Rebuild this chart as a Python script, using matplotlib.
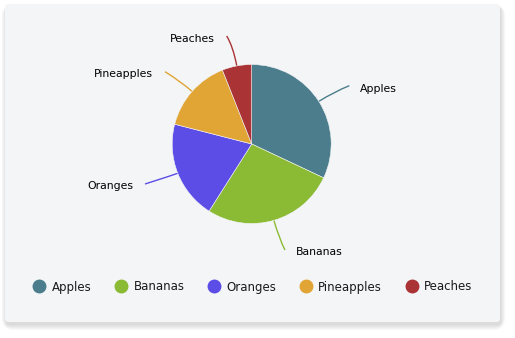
import matplotlib
matplotlib.use("Agg")
import matplotlib.pyplot as plt
import numpy as np
from matplotlib.patches import FancyBboxPatch, PathPatch
from matplotlib.path import Path
from matplotlib.lines import Line2D

categories = ["Apples", "Bananas", "Oranges", "Pineapples", "Peaches"]
values = [32, 27, 20, 15, 6]
colors = ["#4b7d8d", "#8bbb34", "#5b4de6", "#e0a535", "#aa3335"]

W, H = 515, 338
fig = plt.figure(figsize=(W / 100, H / 100), dpi=100)
fig.patch.set_facecolor("white")

bg = fig.add_axes([0, 0, 1, 1])
bg.set_xlim(0, W)
bg.set_ylim(H, 0)
bg.axis("off")

# soft card shadow
for i in range(12):
    g = i * 0.8
    bg.add_patch(FancyBboxPatch((5 + 1 - g * 0.5, 4 + 3 - g * 0.3), 495 + g, 318 + g * 0.9,
                                boxstyle="round,pad=0,rounding_size=%g" % (4 + g),
                                fc="black", ec="none", alpha=0.012, zorder=1))
bg.add_patch(FancyBboxPatch((5, 4), 495, 318, boxstyle="round,pad=0,rounding_size=3",
                            fc="#f4f5f7", ec="none", zorder=2))

cx, cy, R = 251.7, 144.0, 79.5
pie_ax = fig.add_axes([(cx - R) / W, (H - cy - R) / H, 2 * R / W, 2 * R / H])
wedges, _ = pie_ax.pie(values, colors=colors, startangle=90, counterclock=False,
                       radius=1.0, wedgeprops=dict(linewidth=0.4, edgecolor="#f4f5f7"))
pie_ax.set_xlim(-1, 1)
pie_ax.set_ylim(-1, 1)
pie_ax.set_aspect("equal")
pie_ax.axis("off")

# label layout (pixel positions of leader line ends) and control factor
ends = [(349.3, 85.7), (285.0, 250.0), (145.0, 184.0), (165.0, 71.7), (226.7, 36.0)]
ctrl_k = [1.22, 1.25, 1.05, 1.2, 1.25]
label_pos = [(360, 89, "left"), (296, 252, "left"), (133, 186, "right"),
             (153, 74, "right"), (215, 39, "right")]

for w, col, (ex, ey), k, (lx, ly, ha), name in zip(wedges, colors, ends, ctrl_k, label_pos, categories):
    mid = np.deg2rad((w.theta1 + w.theta2) / 2)
    sx, sy = cx + R * np.cos(mid), cy - R * np.sin(mid)
    qx, qy = cx + k * R * np.cos(mid), cy - k * R * np.sin(mid)
    path = Path([(sx, sy), (qx, qy), (ex, ey)], [Path.MOVETO, Path.CURVE3, Path.CURVE3])
    bg.add_patch(PathPatch(path, fc="none", ec=col, lw=1.0, zorder=3))
    bg.text(lx, ly, name, ha=ha, va="center", fontsize=7.8, color="#000000", zorder=4)

handles = [Line2D([], [], marker="o", linestyle="none", markersize=9,
                  markerfacecolor=c, markeredgecolor=c) for c in colors]
leg = bg.legend(handles, categories, ncol=5, loc="center", bbox_to_anchor=(0.491, (H - 287) / H),
                bbox_transform=fig.transFigure, frameon=False, fontsize=8.5,
                handletextpad=0.55, columnspacing=2.0, handlelength=1.0)
for t in leg.get_texts():
    t.set_color("#1a1a1a")

fig.savefig("out.png", dpi=100, facecolor="white")
